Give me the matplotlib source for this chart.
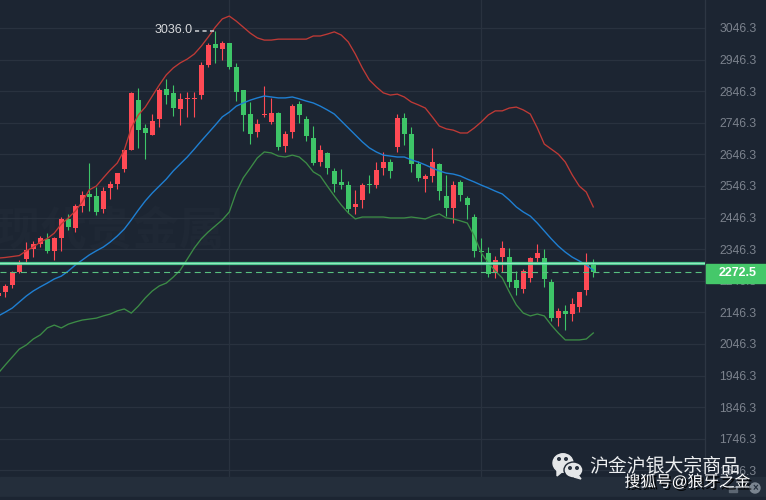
import matplotlib
matplotlib.use('Agg')
import matplotlib.pyplot as plt
import matplotlib.patheffects as pe
from matplotlib.patches import Ellipse, Rectangle, Circle, Polygon
import numpy as np

plt.rcParams['font.family'] = ['Liberation Sans', 'Noto Sans CJK SC', 'DejaVu Sans']

opens = [2198,2211,2233,2274,2315,2347,2363,2378,2341,2382,2442,2413,2483,2521,2515,2473,2540,2553,2600,2660,
         2818,2730,2708,2758,2853,2841,2790,2822,2822,2834,2929,2996,2980,2999,2923,2850,2774,2717,2771,2749,
         2777,2673,2717,2806,2758,2698,2622,2651,2594,2559,2549,2480,2502,2553,2549,2603,2622,2670,2761,2711,
         2616,2568,2578,2616,2515,2477,2559,2508,2448,2341,2334,2271,2321,2321,2249,2220,2255,2318,2318,2242,
         2128,2151,2141,2163,2217,2296]
closes = [2207,2230,2274,2299,2344,2363,2382,2341,2382,2442,2417,2483,2518,2511,2464,2530,2553,2587,2660,2841,
          2723,2714,2752,2850,2834,2793,2822,2825,2825,2929,2992,2983,2999,2923,2844,2771,2711,2742,2774,2777,
          2670,2711,2799,2771,2704,2619,2660,2603,2553,2549,2473,2489,2549,2549,2597,2622,2594,2761,2711,2616,
          2572,2578,2622,2530,2477,2549,2518,2486,2341,2337,2268,2312,2350,2242,2223,2277,2318,2334,2252,2128,
          2151,2141,2173,2211,2296,2272.5]
highs = [2214,2236,2277,2312,2369,2372,2388,2397,2385,2448,2458,2489,2530,2619,2543,2543,2562,2587,2660,2844,
         2856,2742,2774,2856,2885,2866,2841,2844,2844,2939,2999,3036,3005,2999,2936,2850,2812,2758,2863,2825,
         2780,2720,2806,2815,2768,2736,2676,2654,2603,2600,2562,2534,2556,2581,2622,2654,2632,2774,2777,2733,
         2625,2584,2667,2619,2581,2562,2565,2515,2458,2382,2353,2325,2372,2350,2277,2284,2321,2363,2347,2252,
         2160,2170,2192,2211,2334,2315]
lows = [2189,2195,2223,2271,2303,2321,2353,2334,2312,2341,2407,2401,2464,2467,2454,2461,2505,2537,2591,2660,
        2667,2632,2708,2733,2806,2768,2739,2765,2765,2822,2923,2936,2945,2917,2815,2720,2679,2701,2765,2742,
        2660,2654,2698,2746,2689,2613,2610,2584,2527,2537,2461,2458,2477,2524,2540,2581,2572,2654,2676,2591,
        2562,2527,2559,2502,2451,2429,2499,2442,2321,2303,2258,2255,2274,2227,2201,2207,2242,2306,2227,2119,
        2103,2090,2119,2147,2201,2258]

# bollinger bands
upper = [2318,2320,2323,2326,2341,2353,2369,2380,2397,2426,2445,2467,2496,2534,2546,2572,2597,2619,2660,2730,
         2771,2796,2831,2866,2898,2920,2936,2948,2964,2989,3018,3049,3075,3084,3068,3049,3030,3015,3008,3008,
         3011,3011,3011,3011,3011,3021,3021,3027,3034,3024,3002,2964,2920,2882,2860,2841,2834,2837,2828,2812,
         2803,2793,2765,2736,2727,2723,2714,2714,2730,2749,2771,2784,2784,2793,2796,2787,2774,2730,2679,2663,
         2647,2622,2581,2546,2527,2480]
middle = [2135,2147,2160,2179,2198,2214,2227,2239,2252,2261,2277,2296,2312,2328,2341,2353,2369,2388,2410,2439,
          2470,2499,2524,2546,2568,2594,2616,2638,2663,2689,2714,2739,2765,2780,2799,2809,2818,2825,2831,2828,
          2825,2825,2828,2822,2815,2809,2799,2787,2774,2752,2730,2708,2686,2667,2654,2644,2641,2638,2638,2629,
          2622,2613,2603,2594,2587,2584,2578,2568,2559,2549,2540,2530,2521,2502,2480,2464,2451,2429,2404,2379,
          2356,2337,2321,2309,2296,2280]
lower = [1954,1980,2005,2030,2043,2062,2075,2097,2106,2097,2109,2116,2122,2125,2128,2135,2141,2151,2157,2144,
         2166,2192,2214,2230,2239,2258,2280,2315,2350,2379,2401,2420,2439,2464,2527,2572,2603,2635,2654,2651,
         2641,2638,2644,2638,2619,2591,2578,2546,2515,2486,2461,2442,2448,2448,2448,2448,2445,2445,2445,2448,
         2445,2442,2451,2458,2445,2442,2436,2429,2388,2334,2303,2277,2255,2211,2170,2144,2135,2141,2135,2106,
         2081,2059,2059,2059,2062,2081]

price_ticks = [3046.3,2946.3,2846.3,2746.3,2646.3,2546.3,2446.3,2346.3,2246.3,2146.3,2046.3,1946.3,1846.3,1746.3,1646.3]
last_price = 2272.5
alert_price = 2301
peak_price = 3036.0
peak_bar = 31
grid_bars = [33, 69]

BG = '#1c2532'
GRID = '#29323f'
RED = '#ff4a55'
GREEN = '#3ec568'

fig = plt.figure(figsize=(7.66, 5), dpi=100, facecolor=BG)
ax = fig.add_axes([0, 23/500, 705/766, 477/500], facecolor=BG)
ax.set_xlim(0.243, 100.96)
ax.set_ylim(1625.2, 3134.9)

ax.set_xticks(grid_bars)
ax.set_xticklabels([])
ax.set_yticks(price_ticks)
ax.set_yticklabels(['%.1f' % p for p in price_ticks])
ax.yaxis.tick_right()
ax.tick_params(axis='y', length=0, pad=10.2, labelsize=8.8, labelcolor='#7b828d')
ax.tick_params(axis='x', length=0)
ax.grid(True, color=GRID, lw=0.9)
ax.set_axisbelow(True)
for name in ['top', 'left', 'bottom']:
    ax.spines[name].set_visible(False)
ax.spines['right'].set_color('#2d3643')
ax.spines['right'].set_linewidth(0.9)

# faint vendor mark behind the candles
ax.text(0.155, 0.513, '现代贵金属', transform=ax.transAxes, ha='center', va='center',
        fontsize=33, fontweight='bold', color='#1f2835', zorder=0.5,
        family=['Noto Sans CJK SC', 'DejaVu Sans'])

bars = np.arange(len(opens))
o = np.array(opens)
c = np.array(closes)
colors = [RED if c[i] >= o[i] else GREEN for i in bars]

ax.vlines(bars, lows, highs, colors=colors, lw=0.8, zorder=2)
ax.bar(bars, np.maximum(np.abs(c - o), 2), bottom=np.minimum(o, c), width=0.72, color=colors, zorder=2.1)

ax.plot(bars, upper, color='#bf3a36', lw=0.95, zorder=3)
ax.plot(bars, middle, color='#1f7fd2', lw=1.0, zorder=3)
ax.plot(bars, lower, color='#3c8c46', lw=0.95, zorder=3)

# price lines
ax.axhline(last_price, color='#58c080', lw=0.8, dashes=(5.4, 3.8), zorder=3.5)
ax.axhline(alert_price, color='#4fd898', lw=2.3, alpha=0.9, zorder=4)
ax.axhline(alert_price, color='#a6f2cc', lw=0.8, alpha=0.8, zorder=4.1)

# highest price marker
ax.plot([peak_bar - 2.85, peak_bar], [peak_price, peak_price], color='#cfd2d6', lw=1.1, dashes=(2.7, 2.2), zorder=3)
ax.text(peak_bar - 3.2, peak_price + 5, '%.1f' % peak_price, ha='right', va='center',
        color='#d6d8db', fontsize=9, zorder=3)

# top layer in pixel space for the footer, the price box and the account badge
over = fig.add_axes([0, 0, 1, 1], facecolor='none')
over.set_xlim(0, 766)
over.set_ylim(500, 0)
over.axis('off')

over.add_patch(Rectangle((0, 477), 766, 20, color='#242e3b', zorder=1))
over.add_patch(Rectangle((0, 497), 766, 3, color='#1c2532', zorder=1))
over.add_patch(Rectangle((706, 264), 60, 19, color='#45c86a', zorder=2))
over.text(738, 273.5, '%.1f' % last_price, ha='center', va='center', color='white',
          fontsize=9, fontweight='bold', zorder=3)

# wechat bubbles
over.add_patch(Ellipse((563, 463), 20, 18.5, color='#e4e6e8', zorder=4))
over.add_patch(Polygon([(557, 469), (557, 476), (563, 471)], color='#e4e6e8', zorder=4))
over.add_patch(Ellipse((573.5, 470), 19, 16, fc='#e4e6e8', ec='#1c2532', lw=1.0, zorder=5))
over.add_patch(Polygon([(578, 475), (581, 479), (574, 477)], color='#e4e6e8', zorder=5))
for ex, ey in [(559, 459), (566, 459), (570, 468), (577, 468)]:
    over.add_patch(Circle((ex, ey), 1.3, color='#2a3340', zorder=6))

over.text(589.5, 467, '沪金沪银大宗商品', ha='left', va='center', color='#eceef0', fontsize=13.6, zorder=6)
over.text(624.5, 482, '搜狐号@狼牙之金', ha='left', va='center', color='white', fontsize=11.3, zorder=7,
          path_effects=[pe.withSimplePatchShadow(offset=(1.5, -1.5), shadow_rgbFace='black', alpha=0.9)])

# close button in the footer
over.add_patch(Circle((755, 488), 5, color='#7b8590', zorder=6))
over.text(755, 487.7, '×', ha='center', va='center', color='#242e3b', fontsize=7, fontweight='bold', zorder=7)
over.add_patch(Rectangle((729, 487), 8, 5, color='#5d6773', zorder=6))

fig.savefig('out.png', dpi=100, facecolor=BG)
